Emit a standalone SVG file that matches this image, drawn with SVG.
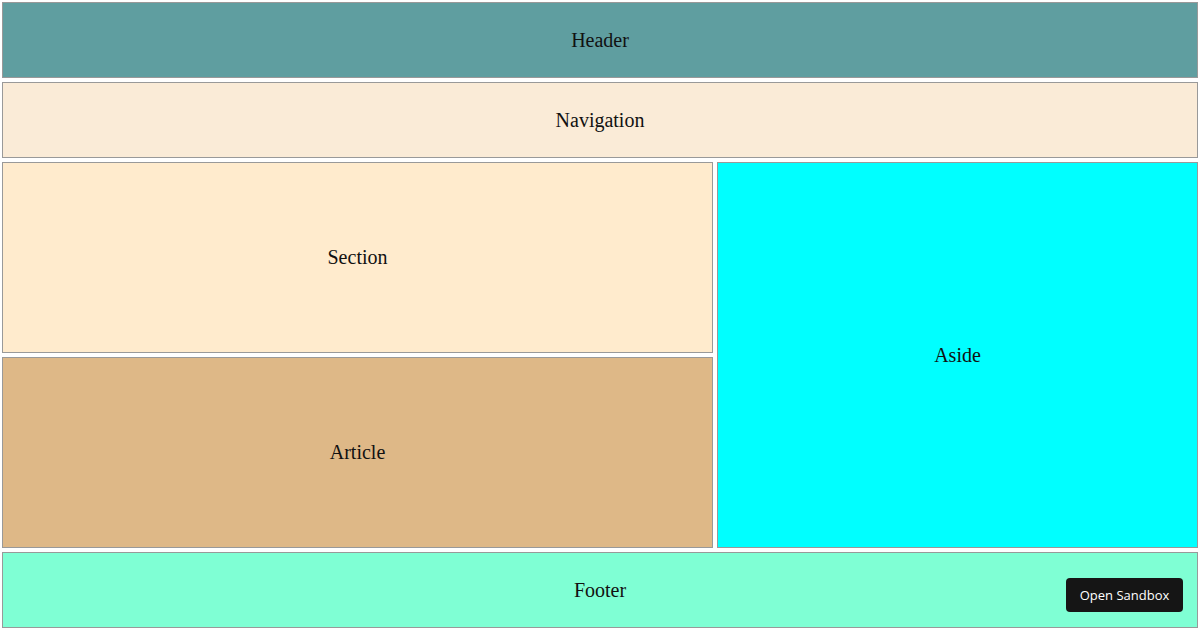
<svg xmlns="http://www.w3.org/2000/svg" width="1200" height="630" viewBox="0 0 1200 630">
<style>
.box{stroke:#999;stroke-width:1}
.lbl{font-family:"Liberation Serif","Times New Roman",serif;font-size:20px;fill:#111;text-anchor:middle;dominant-baseline:central}
.btn{font-family:"Open Sans","Noto Sans",sans-serif;font-size:13px;font-weight:500;fill:#fff;text-anchor:middle;dominant-baseline:central}
</style>
<rect width="1200" height="630" fill="#fff"/>
<g id="header"><rect class="box" x="2.5" y="2.5" width="1195" height="75" fill="#5F9EA0"/><text class="lbl" x="600" y="40">Header</text></g>
<g id="navigation"><rect class="box" x="2.5" y="82.5" width="1195" height="75" fill="#FAEBD7"/><text class="lbl" x="600" y="120">Navigation</text></g>
<g id="section"><rect class="box" x="2.5" y="162.5" width="710" height="190" fill="#FFEBCD"/><text class="lbl" x="357.5" y="257">Section</text></g>
<g id="article"><rect class="box" x="2.5" y="357.5" width="710" height="190" fill="#DEB887"/><text class="lbl" x="357.5" y="452">Article</text></g>
<g id="aside"><rect class="box" x="717.5" y="162.5" width="480" height="385" fill="#00FFFF"/><text class="lbl" x="957.5" y="355">Aside</text></g>
<g id="footer"><rect class="box" x="2.5" y="552.5" width="1195" height="75" fill="#7FFFD4"/><text class="lbl" x="600" y="590">Footer</text></g>
<g id="open-sandbox"><rect x="1066" y="578" width="117" height="34" rx="4" fill="#151515"/><text class="btn" x="1124.5" y="595">Open Sandbox</text></g>
<g id="connectors"/>
</svg>
